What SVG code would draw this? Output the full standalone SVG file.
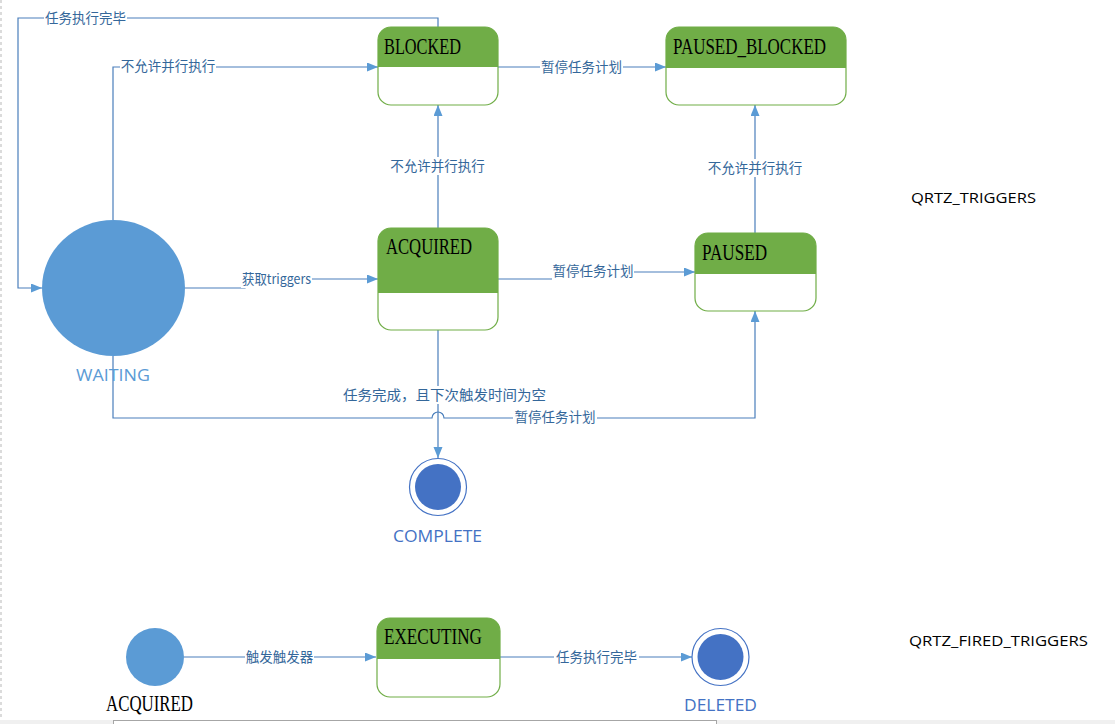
<svg xmlns="http://www.w3.org/2000/svg" width="1115" height="724" viewBox="0 0 1115 724">
<defs>
<style>
.conn{fill:none;stroke:#4a7ebb;stroke-width:1.2}
.lbl{font-family:"Noto Sans CJK SC","Noto Sans",sans-serif;font-size:13.5px;fill:#34679a;text-anchor:middle}
.lbg{fill:#fff}
.box{fill:#fff;stroke:#70ad47;stroke-width:1.2}
.hdr{fill:#70ad47}
.sname{font-family:"Liberation Serif",serif;font-size:22.5px;fill:#000}
.cap{font-family:"Open Sans","Noto Sans",sans-serif;font-size:17px;text-anchor:middle}
.tbl{font-family:"Open Sans","Noto Sans",sans-serif;font-size:15px;fill:#000}
</style>
<marker id="arr" markerUnits="userSpaceOnUse" markerWidth="12" markerHeight="10" refX="11" refY="4.5" orient="auto">
<path d="M0,0 L11,4.5 L0,9 Z" fill="#5b9bd5"/>
</marker>
</defs>
<rect width="1115" height="724" fill="#fff"/>
<line x1="1" y1="0" x2="1" y2="720" stroke="#d0d0d0" stroke-width="1.5" stroke-dasharray="3,3"/>
<rect x="0" y="720" width="1115" height="4" fill="#f0f0f0"/>
<rect x="113.5" y="720.5" width="603" height="6" fill="#fff" stroke="#a6a6a6" stroke-width="1"/>

<g id="connectors">
<path class="conn" d="M438,27 V18 H18 V288 H42" marker-end="url(#arr)"/>
<path class="conn" d="M113,220 V67 H378" marker-end="url(#arr)"/>
<path class="conn" d="M185,288 H245 V279 H378" marker-end="url(#arr)"/>
<path class="conn" d="M438,228 V105" marker-end="url(#arr)"/>
<path class="conn" d="M498,67 H666" marker-end="url(#arr)"/>
<path class="conn" d="M755,233 V105" marker-end="url(#arr)"/>
<path class="conn" d="M498,279 H553 V272 H695" marker-end="url(#arr)"/>
<path class="conn" d="M438,330 V458" marker-end="url(#arr)"/>
<path class="conn" d="M113,356 V418 H432 A6,6 0 0 1 444,418 H755 V311" marker-end="url(#arr)"/>
<path class="conn" d="M184,657 H376" marker-end="url(#arr)"/>
<path class="conn" d="M500,657 H692" marker-end="url(#arr)"/>

<rect class="lbg" x="44" y="10" width="83" height="17"/>
<text class="lbl" x="85.5" y="23">任务执行完毕</text>
<rect class="lbg" x="120" y="58" width="96" height="17"/>
<text class="lbl" x="168" y="71">不允许并行执行</text>
<rect class="lbg" x="389" y="157" width="97" height="18"/>
<text class="lbl" x="437.5" y="171">不允许并行执行</text>
<rect class="lbg" x="540" y="58" width="83" height="17"/>
<text class="lbl" x="581.5" y="72">暂停任务计划</text>
<rect class="lbg" x="707" y="159" width="96" height="18"/>
<text class="lbl" x="755" y="173">不允许并行执行</text>
<rect class="lbg" x="241" y="270" width="71" height="18"/>
<text class="lbl" x="276.5" y="284" textLength="69" lengthAdjust="spacingAndGlyphs">获取triggers</text>
<rect class="lbg" x="552" y="262" width="82" height="18"/>
<text class="lbl" x="593" y="276">暂停任务计划</text>
<rect class="lbg" x="342" y="386" width="205" height="18"/>
<text class="lbl" x="444.5" y="400" textLength="203" lengthAdjust="spacingAndGlyphs">任务完成，且下次触发时间为空</text>
<rect class="lbg" x="513" y="408" width="84" height="18"/>
<text class="lbl" x="555" y="422">暂停任务计划</text>
<rect class="lbg" x="245" y="648" width="69" height="18"/>
<text class="lbl" x="279.5" y="662">触发触发器</text>
<rect class="lbg" x="554" y="648" width="85" height="18"/>
<text class="lbl" x="596.5" y="662">任务执行完毕</text>
</g>

<g id="waiting">
<ellipse cx="113.5" cy="288" rx="71.5" ry="68" fill="#5b9bd5"/>
<text class="cap" x="113" y="381" fill="#5b9bd5" textLength="74" lengthAdjust="spacingAndGlyphs">WAITING</text>
</g>

<g id="blocked">
<rect class="box" x="378" y="27" width="120" height="78" rx="13"/>
<path class="hdr" d="M378,67 V40 A13,13 0 0 1 391,27 H485 A13,13 0 0 1 498,40 V67 Z"/>
<text class="sname" x="384" y="54" textLength="77" lengthAdjust="spacingAndGlyphs">BLOCKED</text>
</g>

<g id="paused_blocked">
<rect class="box" x="666" y="27" width="180" height="78" rx="13"/>
<path class="hdr" d="M666,68 V40 A13,13 0 0 1 679,27 H833 A13,13 0 0 1 846,40 V68 Z"/>
<text class="sname" x="673" y="54" textLength="153" lengthAdjust="spacingAndGlyphs">PAUSED_BLOCKED</text>
</g>

<g id="acquired">
<rect class="box" x="378" y="228" width="120" height="102" rx="13"/>
<path class="hdr" d="M378,293 V241 A13,13 0 0 1 391,228 H485 A13,13 0 0 1 498,241 V293 Z"/>
<text class="sname" x="386" y="254" textLength="86" lengthAdjust="spacingAndGlyphs">ACQUIRED</text>
</g>

<g id="paused">
<rect class="box" x="695" y="233" width="121" height="78" rx="13"/>
<path class="hdr" d="M695,274 V246 A13,13 0 0 1 708,233 H803 A13,13 0 0 1 816,246 V274 Z"/>
<text class="sname" x="702" y="260" textLength="65" lengthAdjust="spacingAndGlyphs">PAUSED</text>
</g>

<g id="complete">
<circle cx="438" cy="487" r="28.5" fill="#fff" stroke="#4472c4" stroke-width="1.2"/>
<circle cx="438" cy="487" r="23" fill="#4472c4"/>
<text class="cap" x="437.5" y="542" fill="#4472c4" textLength="89" lengthAdjust="spacingAndGlyphs">COMPLETE</text>
</g>

<g id="fired_acquired">
<circle cx="155" cy="657" r="29" fill="#5b9bd5"/>
<text class="sname" x="106" y="711" textLength="87" lengthAdjust="spacingAndGlyphs">ACQUIRED</text>
</g>

<g id="executing">
<rect class="box" x="377" y="618" width="123" height="79" rx="13"/>
<path class="hdr" d="M377,659 V631 A13,13 0 0 1 390,618 H487 A13,13 0 0 1 500,631 V659 Z"/>
<text class="sname" x="384" y="644" textLength="98" lengthAdjust="spacingAndGlyphs">EXECUTING</text>
</g>

<g id="deleted">
<circle cx="720.5" cy="657" r="28.5" fill="#fff" stroke="#4472c4" stroke-width="1.2"/>
<circle cx="720.5" cy="657" r="23" fill="#4472c4"/>
<text class="cap" x="720.5" y="711" fill="#4472c4" textLength="73" lengthAdjust="spacingAndGlyphs">DELETED</text>
</g>

<g id="qrtz_triggers">
<text class="tbl" x="911" y="203" textLength="125" lengthAdjust="spacingAndGlyphs">QRTZ_TRIGGERS</text>
</g>
<g id="qrtz_fired_triggers">
<text class="tbl" x="909" y="646" textLength="179" lengthAdjust="spacingAndGlyphs">QRTZ_FIRED_TRIGGERS</text>
</g>
</svg>
